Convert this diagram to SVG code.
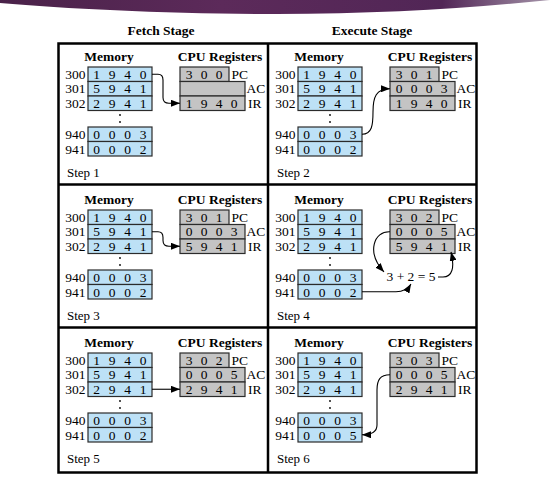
<svg xmlns="http://www.w3.org/2000/svg" width="553" height="487" viewBox="0 0 553 487">
<style>
.t{font-family:"Liberation Serif",serif;font-size:13.5px;fill:#000}
.h{font-weight:bold;font-size:13.5px}
.m{text-anchor:middle}
.e{text-anchor:end}
.st{font-size:13px}
.mem{fill:#bde1f6;stroke:#2b2b2b;stroke-width:1.2}
.reg{fill:#c4c4c4;stroke:#2b2b2b;stroke-width:1.2}
.frame{fill:none;stroke:#000;stroke-width:2.5}
.conn{fill:none;stroke:#000;stroke-width:1.1;marker-end:url(#ah)}
</style>
<defs>
<linearGradient id="bg" x1="0" y1="0" x2="1" y2="0">
<stop offset="0" stop-color="#4a2249"/>
<stop offset="0.4" stop-color="#5c2a5a"/>
<stop offset="0.8" stop-color="#512656"/>
<stop offset="1" stop-color="#a898ac"/>
</linearGradient>
<marker id="ah" viewBox="0 0 9 7" refX="9" refY="3.5" markerWidth="9" markerHeight="7" markerUnits="userSpaceOnUse" orient="auto">
<path d="M0,0 L9,3.5 L0,7 Z" fill="#000"/>
</marker>
<g id="memcol">
<text class="t h m" x="109" y="61">Memory</text>
<text class="t h m" x="220" y="61">CPU Registers</text>
<text class="t e" x="85.5" y="78.8">300</text>
<text class="t e" x="85.5" y="93.3">301</text>
<text class="t e" x="85.5" y="107.8">302</text>
<text class="t e" x="85.5" y="139.3">940</text>
<text class="t e" x="85.5" y="153.8">941</text>
<rect class="mem" x="88" y="67" width="64" height="14.5"/>
<rect class="mem" x="88" y="81.5" width="64" height="14.5"/>
<rect class="mem" x="88" y="96" width="64" height="14.5"/>
<rect class="mem" x="88" y="127" width="64" height="14.5"/>
<rect class="mem" x="88" y="141.5" width="64" height="14.5"/>
<text class="t m" x="96.5 112 127.5 143" y="78.8">1940</text>
<text class="t m" x="96.5 112 127.5 143" y="93.3">5941</text>
<text class="t m" x="96.5 112 127.5 143" y="107.8">2941</text>
<text class="t m" x="96.5 112 127.5 143" y="139.3">0003</text>
<circle cx="120" cy="115" r="0.9"/>
<circle cx="120" cy="122" r="0.9"/>
<rect class="reg" x="180" y="67" width="49" height="14.5"/>
<rect class="reg" x="180" y="81.5" width="65" height="14.5"/>
<rect class="reg" x="180" y="96" width="65" height="14.5"/>
<text class="t" x="231.5" y="78.8">PC</text>
<text class="t" x="246.5" y="93.3">AC</text>
<text class="t" x="248" y="107.8">IR</text>
</g>
</defs>
<path d="M0,0 H553 L550,0 C470,8 380,14 276,14 C170,14 70,9 0,3 Z" fill="url(#bg)"/>
<text class="t h m" x="161" y="35">Fetch Stage</text>
<text class="t h m" x="372" y="35">Execute Stage</text>
<g id="frame">
<rect class="frame" x="58.5" y="43.5" width="418" height="429"/>
<line class="frame" x1="268" y1="43.5" x2="268" y2="472.5"/>
<line class="frame" x1="58.5" y1="184.5" x2="476.5" y2="184.5"/>
<line class="frame" x1="58.5" y1="327.5" x2="476.5" y2="327.5"/>
</g>
<g id="step1">
<use href="#memcol"/>
<text class="t m" x="96.5 112 127.5 143" y="153.8">0002</text>
<text class="t m" x="189 204 219" y="78.8">300</text>
<text class="t m" x="189 204 219 234" y="107.8">1940</text>
<text class="t st" x="67" y="177">Step 1</text>
</g>
<g id="step2" transform="translate(210,0)">
<use href="#memcol"/>
<text class="t m" x="96.5 112 127.5 143" y="153.8">0002</text>
<text class="t m" x="189 204 219" y="78.8">301</text>
<text class="t m" x="189 204 219 234" y="93.3">0003</text>
<text class="t m" x="189 204 219 234" y="107.8">1940</text>
<text class="t st" x="67" y="177">Step 2</text>
</g>
<g id="step3" transform="translate(0,143)">
<use href="#memcol"/>
<text class="t m" x="96.5 112 127.5 143" y="153.8">0002</text>
<text class="t m" x="189 204 219" y="78.8">301</text>
<text class="t m" x="189 204 219 234" y="93.3">0003</text>
<text class="t m" x="189 204 219 234" y="107.8">5941</text>
<text class="t st" x="67" y="177">Step 3</text>
</g>
<g id="step4" transform="translate(210,143)">
<use href="#memcol"/>
<text class="t m" x="96.5 112 127.5 143" y="153.8">0002</text>
<text class="t m" x="189 204 219" y="78.8">302</text>
<text class="t m" x="189 204 219 234" y="93.3">0005</text>
<text class="t m" x="189 204 219 234" y="107.8">5941</text>
<text class="t st" x="67" y="177">Step 4</text>
</g>
<g id="step5" transform="translate(0,286)">
<use href="#memcol"/>
<text class="t m" x="96.5 112 127.5 143" y="153.8">0002</text>
<text class="t m" x="189 204 219" y="78.8">302</text>
<text class="t m" x="189 204 219 234" y="93.3">0005</text>
<text class="t m" x="189 204 219 234" y="107.8">2941</text>
<text class="t st" x="67" y="177">Step 5</text>
</g>
<g id="step6" transform="translate(210,286)">
<use href="#memcol"/>
<text class="t m" x="96.5 112 127.5 143" y="153.8">0005</text>
<text class="t m" x="189 204 219" y="78.8">303</text>
<text class="t m" x="189 204 219 234" y="93.3">0005</text>
<text class="t m" x="189 204 219 234" y="107.8">2941</text>
<text class="t st" x="67" y="177">Step 6</text>
</g>
<text id="sum" class="t m" x="411" y="281">3 + 2 = 5</text>
<g id="connectors">
<path class="conn" d="M152,74.25 H158 Q163,74.25 163,80 V97.5 Q163,103.25 169,103.25 H180"/>
<path class="conn" d="M362,134.25 C372,134.25 373,125 373,112 C373,97 376,88.75 390,88.75"/>
<path class="conn" d="M152,231.75 H158 Q163,231.75 163,237.5 V240.5 Q163,246.25 169,246.25 H180"/>
<path class="conn" d="M390,231.75 C374,231 366,252 384,272"/>
<path class="conn" d="M362,291.75 H396 C404,291.75 408,289 411,284"/>
<path class="conn" d="M438,277 H443 C452,277 455,268 451,252"/>
<path class="conn" d="M152,389.25 H180"/>
<path class="conn" d="M390,374.75 C380,374.75 377,380 377,390 V425 C377,432 372,434.75 362,434.75"/>
</g>
</svg>
